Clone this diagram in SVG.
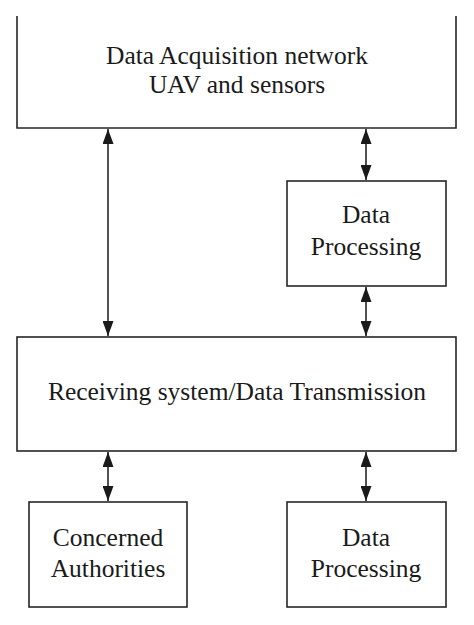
<svg xmlns="http://www.w3.org/2000/svg" width="474" height="625" viewBox="0 0 474 625">
<style>
.box{fill:#fff;stroke:#262626;stroke-width:1.6}
.t{font-family:"Liberation Serif","Times New Roman",serif;font-size:25.5px;fill:#1a1a1a;text-anchor:middle}
.c{stroke:#262626;stroke-width:1.6;fill:none;marker-start:url(#ah);marker-end:url(#ah)}
</style>
<defs>
<marker id="ah" viewBox="0 0 15 11" refX="15" refY="5.5" markerWidth="15" markerHeight="11" markerUnits="userSpaceOnUse" orient="auto-start-reverse">
<path d="M0,0 L15,5.5 L0,11 Z" fill="#1a1a1a"/>
</marker>
</defs>
<rect width="474" height="625" fill="#fff"/>
<g id="acq">
<path class="box" d="M17,16 V128 H456 V16"/>
<text class="t" x="237" y="64">Data Acquisition network</text>
<text class="t" x="237" y="93">UAV and sensors</text>
</g>
<g id="proc1">
<rect class="box" x="287" y="181" width="159" height="105"/>
<text class="t" x="366" y="223">Data</text>
<text class="t" x="366" y="255">Processing</text>
</g>
<g id="recv">
<rect class="box" x="17" y="337" width="439" height="114"/>
<text class="t" x="237" y="400">Receiving system/Data Transmission</text>
</g>
<g id="auth">
<rect class="box" x="29" y="502" width="158" height="105"/>
<text class="t" x="108" y="546">Concerned</text>
<text class="t" x="108" y="577">Authorities</text>
</g>
<g id="proc2">
<rect class="box" x="287" y="502" width="159" height="105"/>
<text class="t" x="366" y="546">Data</text>
<text class="t" x="366" y="577">Processing</text>
</g>
<g id="connectors">
<line class="c" x1="108" y1="129" x2="108" y2="336"/>
<line class="c" x1="366" y1="129" x2="366" y2="180"/>
<line class="c" x1="366" y1="287" x2="366" y2="336"/>
<line class="c" x1="108" y1="452" x2="108" y2="501"/>
<line class="c" x1="366" y1="452" x2="366" y2="501"/>
</g>
</svg>
